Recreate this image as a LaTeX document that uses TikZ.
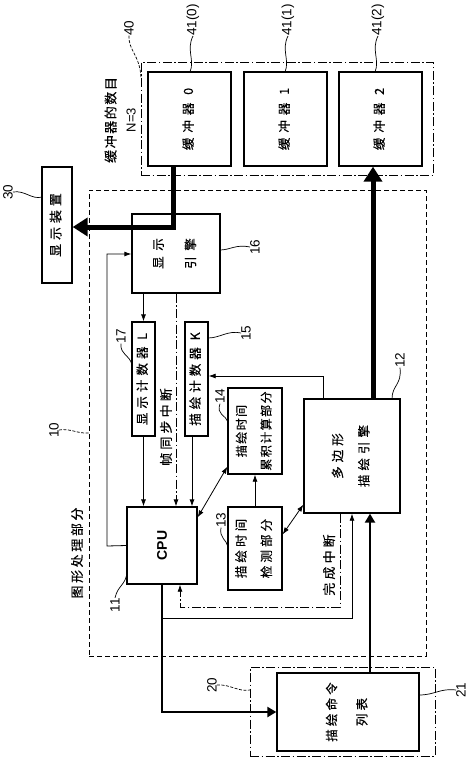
\documentclass[tikz,border=0pt]{standalone}
\usepackage{fontspec}
\setmainfont{Liberation Sans}
\newfontfamily\cjk[FakeBold=0.4]{Noto Sans CJK SC}
\newcommand\cjks[2]{\cjk\addfontfeatures{LetterSpace=#2}\fontsize{#1}{#1}\selectfont}
\usetikzlibrary{arrows.meta,calc}
\newcommand\rtxt[1]{\rotatebox{90}{\begin{tabular}{@{}c@{}}#1\end{tabular}}}
\begin{document}
\begin{tikzpicture}[x=1pt,y=-1pt,
  box/.style={draw,line width=1.3pt,inner sep=0pt,font=\cjks{12.5}{25}},
  ddash/.style={dash pattern=on 9pt off 2.5pt on 1.5pt off 2.5pt},
  dshort/.style={dash pattern=on 5pt off 3pt},
  lbl/.style={rotate=90,inner sep=0pt,font=\fontsize{13.5}{13.5}\selectfont},
  ftext/.style={inner sep=0pt,font=\cjks{13}{22}},
  ldr/.style={line width=0.7pt},
  conn/.style={line width=0.8pt},
  arr/.style={conn,-{Latex[length=7pt,width=5pt]}},
  darr/.style={conn,{Latex[length=7pt,width=5pt]}-{Latex[length=7pt,width=5pt]}},
  fat/.style={line width=5pt,-{Triangle[length=15pt,width=18pt]}},
  mid/.style={line width=2.5pt,-{Triangle[length=9pt,width=10pt]}}]
\useasboundingbox (0,0) rectangle (474,758);

% group boxes
\node[draw,line width=0.9pt,ddash,minimum width=292pt,minimum height=113pt,inner sep=0pt] (g40) at (287,118.5) {};
\node[draw,line width=0.9pt,dshort,minimum width=337pt,minimum height=466pt,inner sep=0pt] (g10) at (257.5,423) {};
\node[draw,line width=0.9pt,ddash,minimum width=185pt,minimum height=89pt,inner sep=0pt] (g20) at (342.5,711.5) {};

% buffers
\node[box,font=\cjks{12.5}{40},minimum width=83pt,minimum height=94pt] (b0) at (189.5,119) {\rtxt{缓冲器 0}};
\node[box,font=\cjks{12.5}{40},minimum width=83pt,minimum height=94pt] (b1) at (285.5,119) {\rtxt{缓冲器 1}};
\node[box,font=\cjks{12.5}{40},minimum width=83pt,minimum height=94pt] (b2) at (380.5,119) {\rtxt{缓冲器 2}};

% main blocks
\node[box,minimum width=30pt,minimum height=116pt,font=\cjks{13}{30}] (disp) at (57,225) {\rtxt{显示装置}};
\node[box,minimum width=88pt,minimum height=79pt,font=\cjks{12.5}{45}] (e16) at (176,253.5) {\rtxt{显示\\[18pt]引擎}};
\node[box,minimum width=23pt,minimum height=114pt,font=\cjks{12.5}{32}] (c17) at (143.5,379) {\rtxt{显示计数器 L}};
\node[box,minimum width=23pt,minimum height=114pt,font=\cjks{12.5}{32}] (c15) at (196.5,379) {\rtxt{描绘计数器 K}};
\node[box,minimum width=70pt,minimum height=77pt,font=\fontsize{14}{14}\selectfont\bfseries] (cpu) at (162,545.5) {\rotatebox{90}{CPU}};
\node[box,minimum width=54pt,minimum height=86pt,font=\cjks{12}{12}] (a14) at (255,431) {\rtxt{描绘时间\\[11pt]累积计算部分}};
\node[box,minimum width=54pt,minimum height=83pt] (d13) at (255,548.5) {\rtxt{描绘时间\\[11pt]检测部分}};
\node[box,minimum width=96pt,minimum height=114pt,font=\cjks{12.5}{32}] (p12) at (352,456) {\rtxt{多边形\\[12pt]描绘引擎}};
\node[box,minimum width=142pt,minimum height=78pt] (l21) at (348,712) {\rtxt{描绘命令\\[16pt]列表}};

% free texts
\node[inner sep=0pt,font=\cjks{13}{12}] (tnum) at (122,120) {\rtxt{缓冲器的数目\\[7pt]{\rmfamily N=3}}};
\node[ftext,font=\cjks{13}{24}] (tsync) at (166,427) {\rotatebox{90}{帧同步中断}};
\node[ftext,font=\cjks{13}{24}] (tdone) at (329,565) {\rotatebox{90}{完成中断}};
\node[ftext,font=\cjks{13}{20}] (tgpu) at (77,553) {\rotatebox{90}{图形处理部分}};

% coordinates for bends
\coordinate (k1) at (173,227);
\coordinate (f1) at (107,546);
\coordinate (f2) at (107,254);
\coordinate (x15) at (192,400);
\coordinate (t1) at (323,376);
\coordinate (u1) at (340,607);
\coordinate (u2) at (180,607);
\coordinate (v0) at (162,618);
\coordinate (v1) at (352,618);
\coordinate (w1) at (162,712);
\coordinate (q) at (370,600);
\coordinate (r) at (373,300);

% thick connectors
\draw[fat] (b0.south -| k1) -- (k1) -- (k1 -| disp.east);
\draw[fat] (p12.north -| r) -- (b2.south -| r);
\draw[mid] (cpu.south) -- (w1) -- (w1 -| l21.west);
\draw[mid] (l21.north -| q) -- (p12.south -| q);

% thin connectors
\draw[arr] (cpu.west) -- (f1) -- (f2) -- (f2 -| e16.west);
\draw[arr] (e16.south -| c17) -- (c17.north);
\draw[arr,ddash] (e16.south) -- (e16.south |- cpu.north);
\draw[arr] (c17.south) -- (c17.south |- cpu.north);
\draw[arr] (c15.south -| x15) -- (x15 |- cpu.north);
\draw[arr] (p12.north -| t1) -- (t1) -- (t1 -| c15.east);
\draw[arr] (d13.north) -- (a14.south);
\draw[darr] ($(cpu.north east)+(0,11)$) -- ($(a14.south west)+(0,-8)$);
\draw[darr] ($(d13.north east)+(0,28)$) -- ($(p12.south west)+(0,-9)$);
\draw[arr,ddash] (p12.south -| u1) -- (u1) -- (u2) -- (u2 |- cpu.south);
\draw[arr] (v0) -- (v1) -- (p12.south);

% labels
\node[lbl] (n40) at (129,28) {40};
\node[lbl] (n410) at (193,20) {41(0)};
\node[lbl] (n411) at (288,20) {41(1)};
\node[lbl] (n412) at (378,20) {41(2)};
\node[lbl] (n30) at (8,192) {30};
\node[lbl] (n16) at (255,247) {16};
\node[lbl] (n17) at (121,336) {17};
\node[lbl] (n15) at (246,333) {15};
\node[lbl] (n14) at (220,396) {14};
\node[lbl] (n13) at (221,520) {13};
\node[lbl] (n11) at (115,605) {11};
\node[lbl] (n12) at (400,360) {12};
\node[lbl] (n10) at (54,430) {10};
\node[lbl] (n20) at (212,685) {20};
\node[lbl] (n21) at (461,690) {21};

% leaders
\draw[ldr,dash pattern=on 3pt off 1.5pt] (n40.west) .. controls (128,50) and (140,55) .. (141,78);
\draw[ldr] (n410.west) .. controls (186,50) and (195,60) .. (190,72);
\draw[ldr] (n411.west) .. controls (281,50) and (290,60) .. (285,72);
\draw[ldr] (n412.west) .. controls (371,50) and (380,60) .. (375,72);
\draw[ldr] (n30.south) .. controls (25,190) and (32,200) .. (42,197);
\draw[ldr] (220,250) .. controls (230,250) and (236,244) .. (n16.north);
\draw[ldr] (n17.west) .. controls (120,355) and (130,355) .. (132,365);
\draw[ldr] (208,338) .. controls (220,338) and (228,330) .. (n15.north);
\draw[ldr] (n14.west) .. controls (216,415) and (226,415) .. (228,422);
\draw[ldr] (n13.west) .. controls (219,538) and (227,540) .. (228,547);
\draw[ldr] (n11.east) .. controls (118,585) and (126,585) .. (127,572);
\draw[ldr] (n12.west) .. controls (402,385) and (392,385) .. (392,399);
\draw[ldr,dash pattern=on 3pt off 1.5pt] (n10.south) .. controls (70,428) and (78,434) .. (89,433);
\draw[ldr,dash pattern=on 3pt off 1.5pt] (n20.south) .. controls (230,684) and (238,692) .. (250,690);
\draw[ldr] (419,695) .. controls (435,695) and (440,688) .. (n21.north);
\end{tikzpicture}
\end{document}
